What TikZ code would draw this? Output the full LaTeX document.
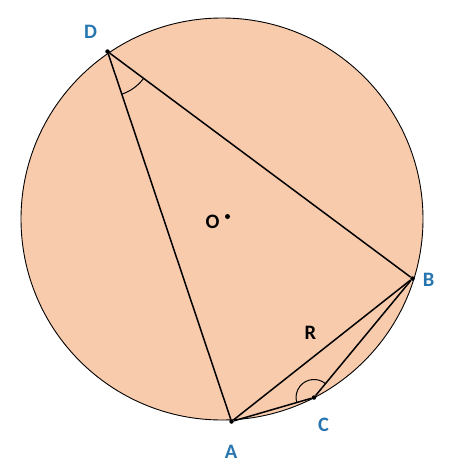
\documentclass[tikz,border=0pt]{standalone}
\usepackage{fontspec}
\setmainfont{Carlito}
\usetikzlibrary{calc,angles}
\definecolor{disc_fill}{RGB}{248, 203, 173}
\definecolor{pt_blue}{RGB}{40, 118, 175}
\tikzstyle{pt}=[circle,fill=black,inner sep=0pt,minimum size=4.5pt]
\tikzstyle{lbl}=[text=pt_blue,font=\bfseries\fontsize{20.5}{20.5}\selectfont,inner sep=0pt]
\tikzstyle{txt}=[text=black,font=\bfseries\fontsize{20.5}{20.5}\selectfont,inner sep=0pt]
\tikzstyle{chord}=[line width=1.5pt,draw=black]

\begin{document}
\begin{tikzpicture}[x=1pt,y=-1pt]
        \useasboundingbox (0,0) rectangle (467,471);
        \draw[fill=disc_fill,line width=0.9pt] (222,219) circle (201pt);
        \node[style=pt] (D) at (107.5,51.5) {};
        \node[style=pt] (A) at (231.5,421.5) {};
        \node[style=pt] (B) at (412.5,278.5) {};
        \node[style=pt] (C) at (314,397.5) {};
        \node[style=pt,minimum size=5pt] (O) at (227.5,216.5) {};
        \node[style=lbl] (lD) at (90.5,31.5) {D};
        \node[style=lbl] (lA) at (231,451.5) {A};
        \node[style=lbl] (lB) at (428.5,279.5) {B};
        \node[style=lbl] (lC) at (323.5,425) {C};
        \node[style=txt] (lO) at (212.5,221.5) {O};
        \node[style=txt] (lR) at (310.5,332.5) {R};
        \draw[style=chord] (D) to (A);
        \draw[style=chord] (D) to (B);
        \draw[style=chord] (A) to (B);
        \draw[style=chord] (A) to (C);
        \draw[style=chord] (C) to (B);
        \pic[draw,line width=1pt,angle radius=45pt] {angle=A--D--B};
        \pic[draw,line width=1pt,angle radius=18pt] {angle=B--C--A};
    \end{tikzpicture}
\end{document}
